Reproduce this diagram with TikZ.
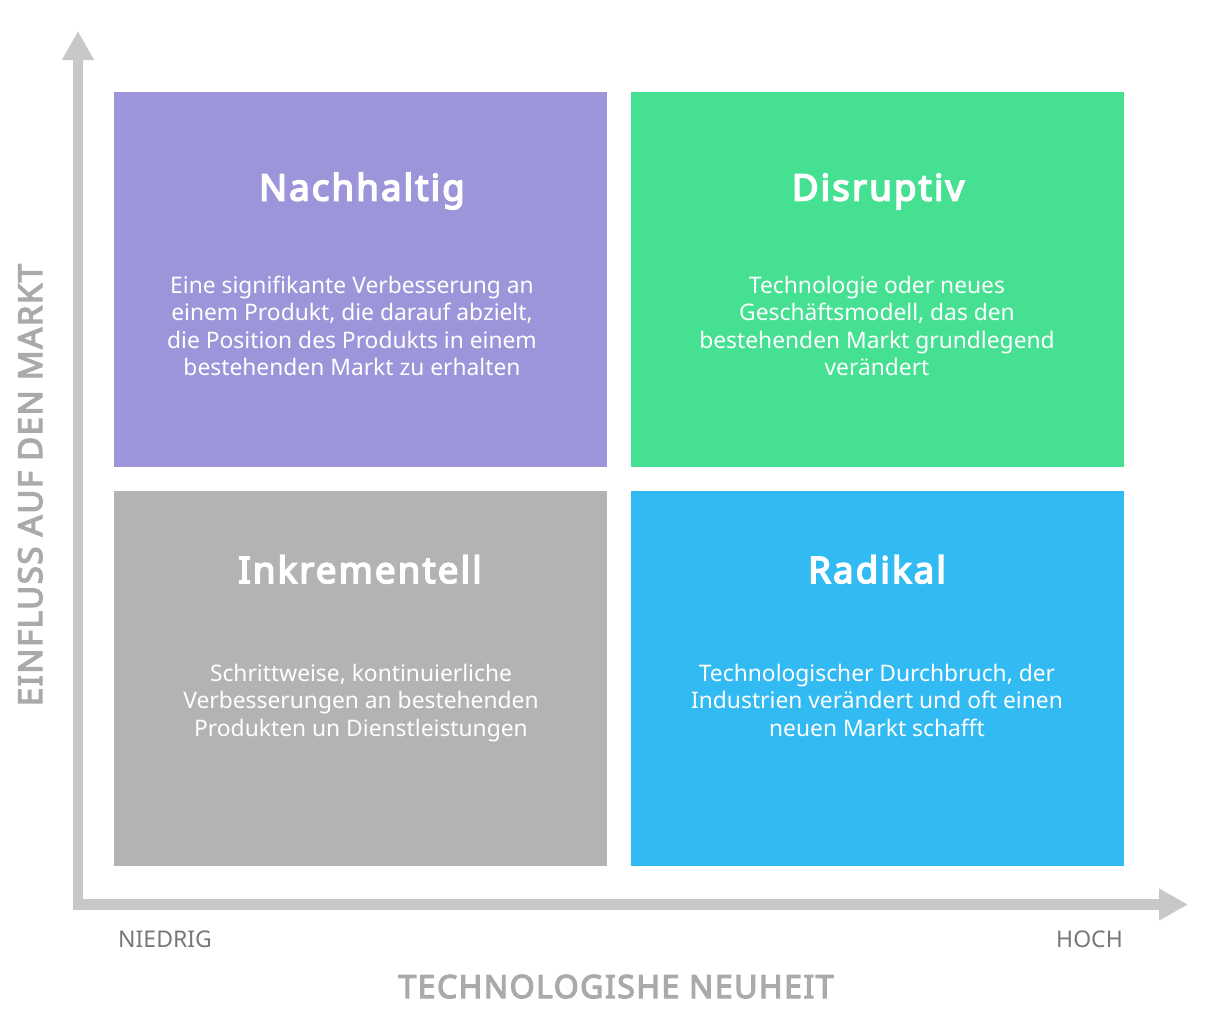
\documentclass[tikz,border=0pt]{standalone}
\usepackage{fontspec}
\setmainfont{Noto Sans}
\newfontfamily\titleface{Noto Sans}[FakeBold=4.5, LetterSpace=6]
\newfontfamily\axisface{Noto Sans}[FakeBold=4, LetterSpace=4.6]
\usetikzlibrary{arrows.meta}
\definecolor{cpurple}{HTML}{9D95DA}
\definecolor{cgreen}{HTML}{45E091}
\definecolor{cgray}{HTML}{B3B3B3}
\definecolor{cblue}{HTML}{32BAF2}
\definecolor{caxis}{HTML}{C8C8C8}
\definecolor{clabel}{HTML}{777777}
\definecolor{ctitle}{HTML}{AAAAAA}
\tikzset{
  quad/.style={inner sep=0pt, outer sep=0pt, minimum width=493pt, minimum height=375pt, anchor=north west},
  qtitle/.style={anchor=base, inner sep=0pt, text=white, font=\titleface\fontsize{36.5}{44}\selectfont},
  qbody/.style={anchor=base, inner sep=0pt, text=white, align=center, font=\fontsize{22.8}{27.5}\selectfont},
  axislabel/.style={anchor=base, inner sep=0pt, text=clabel, font=\fontsize{23}{28}\selectfont},
  axistitle/.style={inner sep=0pt, text=ctitle, font=\axisface\fontsize{32}{36}\selectfont},
  axisline/.style={draw=caxis, line width=10.5pt, line join=miter,
    {Triangle[length=29pt,width=30pt]}-{Triangle[length=29pt,width=30pt]}}
}
\begin{document}
\begin{tikzpicture}[x=1pt,y=-1pt]
\useasboundingbox (0,0) rectangle (1220,1028);
% quadrants
\node[quad, fill=cpurple] (q1) at (114,92) {};
\node[quad, fill=cgreen] (q2) at (631,92) {};
\node[quad, fill=cgray] (q3) at (114,491) {};
\node[quad, fill=cblue] (q4) at (631,491) {};
% titles
\node[qtitle] (t1) at (362,200.5) {Nachhaltig};
\node[qtitle] (t2) at (878,200.5) {Disruptiv};
\node[qtitle] (t3) at (360,583) {Inkrementell};
\node[qtitle] (t4) at (877,583) {Radikal};
% bodies (anchor = baseline of last line)
\node[qbody] (b1) at (352,375.5) {Eine signifikante Verbesserung an\\einem Produkt, die darauf abzielt,\\die Position des Produkts in einem\\bestehenden Markt zu erhalten};
\node[qbody] (b2) at (877,375.5) {Technologie oder neues\\Geschäftsmodell, das den\\bestehenden Markt grundlegend\\verändert};
\node[qbody] (b3) at (361,736) {Schrittweise, kontinuierliche\\Verbesserungen an bestehenden\\Produkten un Dienstleistungen};
\node[qbody] (b4) at (877,736) {Technologischer Durchbruch, der\\Industrien verändert und oft einen\\neuen Markt schafft};
% axes
\coordinate (ytip) at (78,31);
\coordinate (corner) at (78,904.5);
\coordinate (xtip) at (1188,904.5);
\draw[axisline] (ytip) -- (corner) -- (xtip);
% axis labels
\node[axislabel, anchor=base west] (lo) at (118,947) {NIEDRIG};
\node[axislabel, anchor=base east] (hi) at (1123,947) {HOCH};
\node[axistitle, anchor=base] (xt) at (616,998) {TECHNOLOGISHE NEUHEIT};
\node[axistitle, anchor=base, rotate=90, font=\axisface\fontsize{33}{36}\selectfont] (yt) at (42,485) {EINFLUSS AUF DEN MARKT};
\end{tikzpicture}
\end{document}
